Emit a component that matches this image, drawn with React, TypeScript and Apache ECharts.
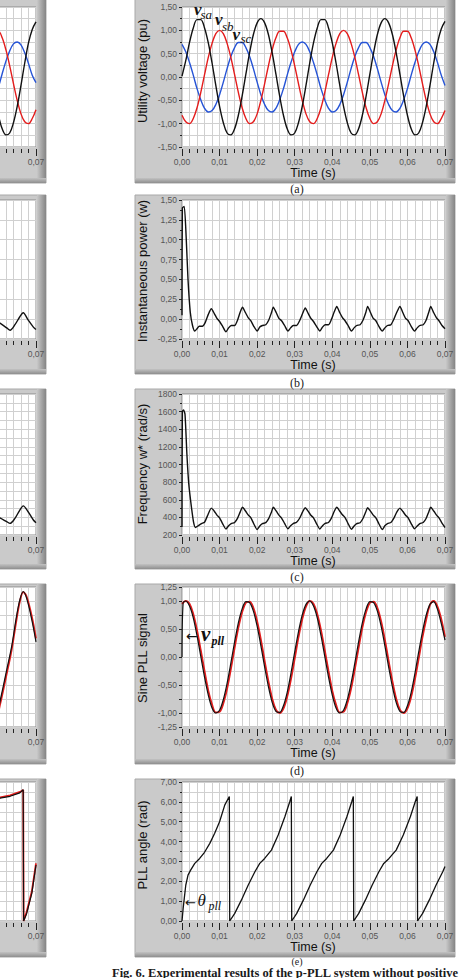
import React, { useEffect, useRef } from "react";
import * as echarts from "echarts";

// ---------------- data ----------------
// sample instants of the sinusoidal traces (ms)
const TIME_MS: number[] = Array.from({ length: 71 }, (_, i) => i);
const TIME_S: number[] = TIME_MS.map((ms) => ms / 1000);

const X_TICK_LABELS = ["0,00", "0,01", "0,02", "0,03", "0,04", "0,05", "0,06", "0,07"];
const Y_LABELS_A = ["-1,50", "-1,00", "-0,50", "0,00", "0,50", "1,00", "1,50"];
const Y_LABELS_B = ["-0,25", "0,00", "0,25", "0,50", "0,75", "1,00", "1,25", "1,50"];
const Y_LABELS_C = ["200", "400", "600", "800", "1000", "1200", "1400", "1600", "1800"];
const Y_LABELS_D = ["-1,25", "-1,00", "", "-0,50", "", "0,00", "", "0,50", "", "1,00", "1,25"];
const Y_LABELS_E = ["0,00", "1,00", "2,00", "3,00", "4,00", "5,00", "6,00", "7,00"];

const Y_NAMES = ["Utility voltage (pu)", "Instantaneous power (w)", "Frequency w* (rad/s)", "Sine PLL signal", "PLL angle (rad)"];
const SUB_CAPTIONS = ["(a)", "(b)", "(c)", "(d)", "(e)"];
const FIG_CAPTION = "Fig. 6. Experimental results of the p-PLL system without positive";

// (a) utility voltages
const VSA = [
  0.02, 0.35, 0.74, 1.05, 1.23, 1.23, 1.05, 0.73, 0.30, -0.18, -0.63, -0.98, -1.20, -1.24, -1.11, -0.82, -0.41, 0.06, 0.52, 0.91, 1.16, 1.25, 1.16, 0.91, 0.52, 0.06, -0.41, -0.82, -1.11, -1.24, -1.20, -0.98, -0.63,
  -0.18, 0.30, 0.73, 1.05, 1.23, 1.23, 1.05, 0.73, 0.30, -0.18, -0.63, -0.98, -1.20, -1.24, -1.11, -0.82, -0.41, 0.06, 0.52, 0.91, 1.16, 1.25, 1.16, 0.91, 0.52, 0.06, -0.41, -0.82, -1.11, -1.24, -1.20, -0.98, -0.63,
  -0.18, 0.30, 0.73, 1.03, 1.19,
];
const VSB = [
  -0.82, -0.96, -1.00, -0.89, -0.66, -0.33, 0.05, 0.42, 0.72, 0.93, 1.00, 0.93, 0.72, 0.42, 0.05, -0.33, -0.66, -0.89, -1.00, -0.96, -0.79, -0.50, -0.14, 0.24, 0.58, 0.84, 0.98, 0.98, 0.84, 0.58, 0.24, -0.14, -0.50,
  -0.79, -0.96, -1.00, -0.89, -0.66, -0.33, 0.05, 0.42, 0.72, 0.93, 1.00, 0.93, 0.72, 0.42, 0.05, -0.33, -0.66, -0.89, -1.00, -0.96, -0.79, -0.50, -0.14, 0.24, 0.58, 0.84, 0.98, 0.98, 0.84, 0.58, 0.24, -0.14, -0.50,
  -0.79, -0.96, -1.00, -0.89, -0.72,
];
const VSC = [
  0.70, 0.54, 0.31, 0.04, -0.25, -0.49, -0.67, -0.75, -0.72, -0.59, -0.38, -0.11, 0.18, 0.44, 0.63, 0.74, 0.74, 0.63, 0.44, 0.18, -0.11, -0.38, -0.59, -0.72, -0.75, -0.67, -0.49, -0.25, 0.04, 0.31, 0.54, 0.70, 0.75,
  0.70, 0.54, 0.31, 0.04, -0.25, -0.49, -0.67, -0.75, -0.72, -0.59, -0.38, -0.11, 0.18, 0.44, 0.63, 0.74, 0.74, 0.63, 0.44, 0.18, -0.11, -0.38, -0.59, -0.72, -0.75, -0.67, -0.49, -0.25, 0.04, 0.31, 0.54, 0.70, 0.75,
  0.70, 0.54, 0.31, 0.04, -0.18,
];

// (b) instantaneous power
const POWER_T = [
  0, 0.0001, 0.0006, 0.0011, 0.0016, 0.0022, 0.0028, 0.0034, 0.0040, 0.0046, 0.0054, 0.0062, 0.0070, 0.0078,
  0.0086, 0.0093, 0.0100, 0.0108, 0.0117, 0.0124, 0.0131, 0.0140, 0.0148, 0.0155, 0.0161,
  0.0169, 0.0176, 0.0183, 0.0191, 0.0200, 0.0207, 0.0214, 0.0223, 0.0231, 0.0238, 0.0243,
  0.0251, 0.0258, 0.0265, 0.0273, 0.0282, 0.0289, 0.0296, 0.0305, 0.0313, 0.0321, 0.0328,
  0.0336, 0.0343, 0.0350, 0.0358, 0.0367, 0.0374, 0.0381, 0.0390, 0.0398, 0.0405, 0.0412,
  0.0420, 0.0427, 0.0434, 0.0442, 0.0451, 0.0458, 0.0465, 0.0474, 0.0482, 0.0489, 0.0494,
  0.0502, 0.0509, 0.0516, 0.0524, 0.0533, 0.0540, 0.0547, 0.0556, 0.0564, 0.0572, 0.0580,
  0.0588, 0.0595, 0.0602, 0.0610, 0.0619, 0.0626, 0.0633, 0.0642, 0.0650, 0.0657, 0.0662,
  0.0670, 0.0677, 0.0684, 0.0692, 0.0700,
];
const POWER_V = [
  0.05, 1.40, 1.42, 1.04, 0.50, 0.09, -0.08, -0.15, -0.12, -0.09, -0.09, -0.04, 0.06, 0.13,
  0.07, 0.01, -0.03, -0.09, -0.16, -0.11, -0.08, -0.08, -0.01, 0.09, 0.15,
  0.08, 0.02, -0.02, -0.09, -0.15, -0.10, -0.08, -0.07, -0.01, 0.08, 0.15,
  0.08, 0.01, -0.02, -0.08, -0.15, -0.11, -0.08, -0.08, -0.02, 0.07, 0.14,
  0.07, 0.01, -0.03, -0.09, -0.15, -0.10, -0.07, -0.07, 0.00, 0.09, 0.16,
  0.08, 0.02, -0.02, -0.08, -0.15, -0.11, -0.08, -0.07, -0.01, 0.08, 0.16,
  0.08, 0.01, -0.02, -0.09, -0.15, -0.11, -0.08, -0.07, 0.00, 0.09, 0.16,
  0.08, 0.01, -0.02, -0.09, -0.15, -0.11, -0.08, -0.07, -0.01, 0.09, 0.16,
  0.08, 0.02, -0.02, -0.08, -0.12,
];

// (c) frequency w*
const FREQ_T = [
  0, 0.0001, 0.0004, 0.0008, 0.0013, 0.0018, 0.0025, 0.0031, 0.0036, 0.0043, 0.0052, 0.0060, 0.0068, 0.0078,
  0.0086, 0.0093, 0.0100, 0.0108, 0.0117, 0.0124, 0.0131, 0.0140, 0.0148, 0.0155, 0.0161,
  0.0169, 0.0176, 0.0183, 0.0191, 0.0200, 0.0207, 0.0214, 0.0223, 0.0231, 0.0238, 0.0243,
  0.0251, 0.0258, 0.0265, 0.0273, 0.0282, 0.0289, 0.0296, 0.0305, 0.0313, 0.0321, 0.0328,
  0.0336, 0.0343, 0.0350, 0.0358, 0.0367, 0.0374, 0.0381, 0.0390, 0.0398, 0.0405, 0.0412,
  0.0420, 0.0427, 0.0434, 0.0442, 0.0451, 0.0458, 0.0465, 0.0474, 0.0482, 0.0489, 0.0494,
  0.0502, 0.0509, 0.0516, 0.0524, 0.0533, 0.0540, 0.0547, 0.0556, 0.0564, 0.0572, 0.0580,
  0.0588, 0.0595, 0.0602, 0.0610, 0.0619, 0.0626, 0.0633, 0.0642, 0.0650, 0.0657, 0.0662,
  0.0670, 0.0677, 0.0684, 0.0692, 0.0700,
];
const FREQ_V = [
  290, 1600, 1620, 1570, 1120, 780, 520, 340, 285, 305, 330, 345, 420, 505,
  470, 425, 395, 330, 268, 305, 330, 342, 392, 462, 515,
  472, 428, 398, 328, 262, 302, 328, 340, 388, 458, 515,
  470, 425, 392, 332, 270, 305, 330, 344, 390, 462, 510,
  468, 424, 395, 330, 268, 306, 332, 342, 394, 466, 515,
  470, 430, 398, 330, 265, 302, 328, 340, 390, 460, 510,
  468, 425, 395, 328, 262, 304, 330, 342, 392, 462, 505,
  466, 424, 394, 330, 270, 302, 330, 342, 390, 465, 515,
  472, 428, 395, 335, 285,
];

// (d) sine PLL signal: reference (red) and PLL output (black)
const PLL_SINE_REF = [
  0.95, 1.00, 0.95, 0.77, 0.48, 0.12, -0.25, -0.60, -0.85, -0.99, -0.98, -0.83, -0.57, -0.22, 0.16, 0.52, 0.80, 0.97, 0.99, 0.88, 0.64, 0.31, -0.07, -0.43, -0.74, -0.94, -1.00, -0.92, -0.71, -0.40, -0.03, 0.35, 0.67,
  0.90, 1.00, 0.95, 0.77, 0.48, 0.12, -0.25, -0.60, -0.85, -0.99, -0.98, -0.83, -0.57, -0.22, 0.16, 0.52, 0.80, 0.97, 0.99, 0.88, 0.64, 0.31, -0.07, -0.43, -0.74, -0.94, -1.00, -0.92, -0.71, -0.40, -0.03, 0.35, 0.67,
  0.93, 1.00, 0.90, 0.68, 0.36,
];
const PLL_SINE = [
  0.00,
  1.00, 0.91, 0.70, 0.38, 0.01, -0.36, -0.68, -0.91, -1.00, -0.95, -0.76, -0.47, -0.11, 0.27, 0.61, 0.86, 0.99, 0.97, 0.82, 0.55, 0.20, -0.18, -0.53, -0.81, -0.97, -0.99, -0.87, -0.63, -0.29, 0.09, 0.45, 0.75, 0.94,
  1.00, 0.91, 0.70, 0.38, 0.01, -0.36, -0.68, -0.91, -1.00, -0.95, -0.76, -0.47, -0.11, 0.27, 0.61, 0.86, 0.99, 0.97, 0.82, 0.55, 0.20, -0.18, -0.53, -0.81, -0.97, -0.99, -0.87, -0.63, -0.29, 0.09, 0.45, 0.75, 0.94,
  0.99, 0.85, 0.60, 0.30,
];
const PLL_SINE_STEP_T = 0.0003;
const PLL_SINE_STEP_V = 0.97;

// (e) PLL angle
const ANGLE_T = [
  0, 0.0003, 0.0006, 0.0010, 0.0016, 0.0023, 0.0034, 0.0047, 0.0060, 0.0074, 0.0087, 0.0100, 0.0114, 0.0126, 0.0127,
  0.0140, 0.0158, 0.0176, 0.0194, 0.0207, 0.0220, 0.0238, 0.0256, 0.0274, 0.0287, 0.0291, 0.0292,
  0.0305, 0.0323, 0.0341, 0.0359, 0.0372, 0.0385, 0.0403, 0.0421, 0.0439, 0.0452, 0.0456, 0.0457,
  0.0470, 0.0488, 0.0506, 0.0524, 0.0537, 0.0551, 0.0570, 0.0589, 0.0608, 0.0621, 0.0626, 0.0627,
  0.0640, 0.0658, 0.0676, 0.0694, 0.0700,
];
const ANGLE_V = [
  0, 0.62, 1.13, 1.80, 2.31, 2.56, 2.90, 3.15, 3.46, 3.91, 4.42, 5.00, 5.85, 6.27, 0,
  0.37, 1.05, 1.80, 2.48, 2.90, 3.15, 3.57, 4.33, 5.26, 6.02, 6.27, 0,
  0.37, 1.05, 1.80, 2.48, 2.90, 3.15, 3.57, 4.33, 5.26, 6.02, 6.27, 0,
  0.37, 1.05, 1.80, 2.48, 2.90, 3.15, 3.57, 4.33, 5.26, 6.02, 6.27, 0,
  0.37, 1.05, 1.80, 2.48, 2.75,
];

// left (partly cut) column: only its last ~10 ms are visible
const L_TIME_S = TIME_S.slice(55);
const L_VSA = [1.16, 0.91, 0.52, 0.06, -0.41, -0.82, -1.11, -1.24, -1.20, -0.98, -0.63, -0.18, 0.30, 0.73, 1.02, 1.18];
const L_VSB = [-0.14, 0.24, 0.58, 0.84, 0.98, 0.98, 0.84, 0.58, 0.24, -0.14, -0.50, -0.79, -0.96, -1.00, -0.89, -0.70];
const L_VSC = [-0.59, -0.72, -0.75, -0.67, -0.49, -0.22, 0.07, 0.34, 0.56, 0.71, 0.75, 0.69, 0.52, 0.29, 0.04, -0.12];
const L_POWER_T = [0.0560, 0.0580, 0.0595, 0.0604, 0.0622, 0.0631, 0.0644, 0.0657, 0.0666, 0.0679, 0.0693, 0.0700];
const L_POWER_V = [0.10, 0.02, -0.03, -0.05, -0.11, -0.14, -0.07, 0.03, 0.08, -0.01, -0.10, -0.13];
const L_FREQ_V = [480, 420, 400, 393, 351, 332, 389, 483, 530, 464, 370, 339];
const L_SINE_T = [0.0575, 0.0584, 0.0595, 0.0604, 0.0622, 0.0635, 0.0648, 0.0657, 0.0666, 0.0675, 0.0689, 0.0700];
const L_SINE = [-1.12, -1.17, -1.05, -0.80, -0.23, 0.18, 0.72, 1.02, 1.17, 1.05, 0.66, 0.27];
const L_SINE_REF = [-1.08, -1.16, -1.08, -0.86, -0.30, 0.12, 0.66, 0.99, 1.16, 1.08, 0.72, 0.33];
const L_ANGLE_T = [0.0570, 0.0604, 0.0631, 0.0657, 0.0666, 0.0667, 0.0675, 0.0689, 0.0700];
const L_ANGLE = [5.55, 6.19, 6.28, 6.45, 6.61, 0.0, 0.37, 1.40, 2.82];
const L_ANGLE_REF = [5.60, 6.22, 6.33, 6.50, 6.60, 0.0, 0.45, 1.50, 2.90];

// ---------------- layout / style ----------------
const BLACK = "#111111";
const RED = "#e41c1c";
const BLUE = "#2553d6";
const GRID_LINE = "#d0d0d0";
const SANS = "Liberation Sans";
const SERIF = "Liberation Serif";

const PLOT_LEFT = 182;
const PLOT_WIDTH = 263;
const FRAME_LEFT = 135;
const FRAME_WIDTH = 320;
const LEFT_COLUMN_SHIFT = -409; // css offset of the cut-off left column

const LAYOUT = [
  { top: 7, height: 140, frameTop: -4, frameBottom: 183, nameY: 71, capY: 189 },
  { top: 200, height: 139, frameTop: 195, frameBottom: 374, nameY: 271, capY: 383 },
  { top: 394, height: 141, frameTop: 389, frameBottom: 569, nameY: 464, capY: 577 },
  { top: 587, height: 140, frameTop: 584, frameBottom: 764, nameY: 658, capY: 771 },
  { top: 782, height: 139, frameTop: 779, frameBottom: 957, nameY: 845, capY: 961 },
];

const Y_AXES = [
  { min: -1.5, max: 1.5, interval: 0.5, labels: Y_LABELS_A, minor: 2, minorLines: true },
  { min: -0.25, max: 1.5, interval: 0.25, labels: Y_LABELS_B, minor: 2, minorLines: false },
  { min: 200, max: 1800, interval: 200, labels: Y_LABELS_C, minor: 2, minorLines: true },
  { min: -1.25, max: 1.25, interval: 0.25, labels: Y_LABELS_D, minor: 0, minorLines: false },
  { min: 0, max: 7, interval: 1, labels: Y_LABELS_E, minor: 2, minorLines: true },
];

const pairs = (t: number[], v: number[]) => t.map((x, i) => [x, v[i]]);

function line(idx: number, data: number[][], color: string, width: number, smooth: number | boolean) {
  return {
    type: "line",
    xAxisIndex: idx,
    yAxisIndex: idx,
    data,
    symbol: "none",
    showSymbol: false,
    smooth,
    silent: true,
    z: 3,
    lineStyle: { color, width },
    itemStyle: { color },
  };
}

function text(x: number, y: number, str: string, o: any = {}) {
  return {
    type: "text",
    x,
    y,
    z: 20,
    silent: true,
    rotation: o.rotation || 0,
    style: {
      text: str,
      fontSize: o.fontSize || 12,
      fontFamily: o.fontFamily || SANS,
      fontStyle: o.fontStyle || "normal",
      fontWeight: o.fontWeight || "normal",
      fill: o.fill || "#111",
      align: o.align || "center",
      verticalAlign: o.verticalAlign || "middle",
    },
  };
}

function buildOption(isMain: boolean) {
  const grid: any[] = [];
  const xAxis: any[] = [];
  const yAxis: any[] = [];
  const graphics: any[] = [];

  LAYOUT.forEach((L, p) => {
    const ya = Y_AXES[p];
    grid.push({
      left: PLOT_LEFT,
      top: L.top,
      width: PLOT_WIDTH,
      height: L.height,
      show: true,
      backgroundColor: "#ffffff",
      borderColor: "#8c8c8c",
      borderWidth: 1,
    });
    xAxis.push({
      type: "value",
      gridIndex: p,
      min: 0,
      max: 0.07,
      interval: 0.01,
      offset: 2,
      axisLine: { show: false, onZero: false },
      axisTick: { show: true, length: 7, lineStyle: { color: "#222", width: 1 } },
      minorTick: { show: true, splitNumber: 5, length: 4, lineStyle: { color: "#222", width: 1 } },
      splitLine: { show: true, lineStyle: { color: GRID_LINE, width: 1 } },
      minorSplitLine: { show: true, lineStyle: { color: GRID_LINE, width: 1 } },
      axisLabel: {
        margin: 8,
        fontSize: 8.5,
        fontFamily: SANS,
        color: "#555",
        formatter: (v: number) => {
          const i = Math.round(v * 100);
          if (!isMain && i !== 7) return "";
          return X_TICK_LABELS[i] ?? "";
        },
      },
    });
    yAxis.push({
      type: "value",
      gridIndex: p,
      min: ya.min,
      max: ya.max,
      interval: ya.interval,
      axisLine: { show: false, onZero: false },
      axisTick: { show: true, length: 3, lineStyle: { color: "#222", width: 1 } },
      minorTick: { show: ya.minor > 0, splitNumber: ya.minor || 2, length: 2, lineStyle: { color: "#222", width: 1 } },
      splitLine: { show: true, lineStyle: { color: GRID_LINE, width: 1 } },
      minorSplitLine: { show: ya.minorLines, lineStyle: { color: GRID_LINE, width: 1 } },
      axisLabel: {
        show: isMain,
        margin: 5,
        fontSize: 8.5,
        fontFamily: SANS,
        color: "#555",
        formatter: (v: number) => ya.labels[Math.round((v - ya.min) / ya.interval)] ?? "",
      },
    });

    // gray LabVIEW-like frame
    const fh = L.frameBottom - L.frameTop;
    graphics.push({
      type: "rect",
      z: -10,
      silent: true,
      shape: { x: FRAME_LEFT, y: L.frameTop, width: FRAME_WIDTH, height: fh },
      style: { fill: "#cacaca", stroke: "#a8a8a8", lineWidth: 1 },
    });
    graphics.push({
      type: "rect",
      z: -9,
      silent: true,
      shape: { x: FRAME_LEFT + FRAME_WIDTH - 9, y: L.frameTop, width: 9, height: fh },
      style: {
        fill: {
          type: "linear", x: 0, y: 0, x2: 1, y2: 0,
          colorStops: [{ offset: 0, color: "#c8c8c8" }, { offset: 1, color: "#858585" }],
        },
      },
    });
    graphics.push({
      type: "rect",
      z: -9,
      silent: true,
      shape: { x: FRAME_LEFT, y: L.frameBottom - 5, width: FRAME_WIDTH, height: 5 },
      style: {
        fill: {
          type: "linear", x: 0, y: 0, x2: 0, y2: 1,
          colorStops: [{ offset: 0, color: "#c2c2c2" }, { offset: 1, color: "#8e8e8e" }],
        },
      },
    });

    if (isMain) {
      graphics.push(text(142.5, L.nameY, Y_NAMES[p], { rotation: Math.PI / 2, fontSize: 13 }));
      graphics.push(text(313, L.top + L.height + 26, "Time (s)", { fontSize: 12.5 }));
      graphics.push(text(297, L.capY, SUB_CAPTIONS[p], { fontFamily: SERIF, fontSize: p === 4 ? 10 : 12, fill: "#222" }));
    }
  });

  let series: any[];
  if (isMain) {
    const bi = { fontFamily: SERIF, fontStyle: "italic", fontWeight: "bold", align: "left" };
    const it = { fontFamily: SERIF, fontStyle: "italic", align: "left" };
    // (a) phase labels
    graphics.push(text(194, 9.5, "v", { ...bi, fontSize: 17 }));
    graphics.push(text(200.5, 14.5, "sa", { ...it, fontSize: 13 }));
    graphics.push(text(215, 19.5, "v", { ...bi, fontSize: 17 }));
    graphics.push(text(222, 26, "sb", { ...it, fontSize: 13 }));
    graphics.push(text(232.5, 34.5, "v", { ...bi, fontSize: 17 }));
    graphics.push(text(240.5, 38, "sc", { ...it, fontSize: 13 }));
    // (d)
    graphics.push(text(186, 636, "←", { fontFamily: "DejaVu Sans", fontSize: 14, align: "left" }));
    graphics.push(text(201, 633.5, "v", { ...bi, fontSize: 21 }));
    graphics.push(text(211.5, 640.5, "pll", { ...bi, fontSize: 12 }));
    // (e)
    graphics.push(text(185, 902, "←", { fontFamily: "DejaVu Sans", fontSize: 13, align: "left" }));
    graphics.push(text(197.5, 900.5, "θ", { ...it, fontSize: 17 }));
    graphics.push(text(208.5, 906, "pll", { ...it, fontSize: 12 }));
    // figure caption (cut by the page edge in the source)
    graphics.push(text(112, 972.5, FIG_CAPTION, { fontFamily: SERIF, fontWeight: "bold", fontSize: 12.5, align: "left", fill: "#1a1a1a" }));

    series = [
      line(0, pairs(TIME_S, VSC), BLUE, 1.4, 0.35),
      line(0, pairs(TIME_S, VSB), RED, 1.4, 0.35),
      line(0, pairs(TIME_S, VSA), BLACK, 1.4, 0.35),
      line(1, pairs(POWER_T, POWER_V), BLACK, 1.4, 0.2),
      line(2, pairs(FREQ_T, FREQ_V), BLACK, 1.4, 0.2),
      line(3, pairs(TIME_S, PLL_SINE_REF), RED, 1.8, 0.35),
      line(
        3,
        [[TIME_S[0], PLL_SINE[0]], [PLL_SINE_STEP_T, PLL_SINE_STEP_V], ...pairs(TIME_S.slice(1), PLL_SINE.slice(1))],
        BLACK,
        1.2,
        0.3
      ),
      line(4, pairs(ANGLE_T, ANGLE_V), BLACK, 1.3, false),
    ];
  } else {
    series = [
      line(0, pairs(L_TIME_S, L_VSC), BLUE, 1.4, 0.35),
      line(0, pairs(L_TIME_S, L_VSB), RED, 1.4, 0.35),
      line(0, pairs(L_TIME_S, L_VSA), BLACK, 1.4, 0.35),
      line(1, pairs(L_POWER_T, L_POWER_V), BLACK, 1.4, 0.3),
      line(2, pairs(L_POWER_T, L_FREQ_V), BLACK, 1.4, 0.3),
      line(3, pairs(L_SINE_T, L_SINE_REF), RED, 1.8, 0.35),
      line(3, pairs(L_SINE_T, L_SINE), BLACK, 1.2, 0.35),
      line(4, pairs(L_ANGLE_T, L_ANGLE_REF), RED, 1.8, false),
      line(4, pairs(L_ANGLE_T, L_ANGLE), BLACK, 1.2, false),
    ];
  }

  return {
    animation: false,
    backgroundColor: "transparent",
    grid,
    xAxis,
    yAxis,
    series,
    graphic: { elements: graphics },
  };
}

export default function App() {
  const mainRef = useRef<HTMLDivElement>(null);
  const leftRef = useRef<HTMLDivElement>(null);
  useEffect(() => {
    document.body.style.margin = "0";
    if (!mainRef.current || !leftRef.current) return;
    const main = echarts.init(mainRef.current, undefined, { renderer: "svg", width: 474, height: 978 });
    main.setOption(buildOption(true) as any);
    const left = echarts.init(leftRef.current, undefined, { renderer: "svg", width: 474, height: 978 });
    left.setOption(buildOption(false) as any);
    return () => {
      main.dispose();
      left.dispose();
    };
  }, []);
  return (
    <div style={{ position: "absolute", left: 0, top: 0, width: 474, height: 978, overflow: "hidden", background: "#fff" }}>
      <div ref={mainRef} style={{ position: "absolute", left: 0, top: 0, width: 474, height: 978 }} />
      <div ref={leftRef} style={{ position: "absolute", left: LEFT_COLUMN_SHIFT, top: 0, width: 474, height: 978 }} />
    </div>
  );
}
